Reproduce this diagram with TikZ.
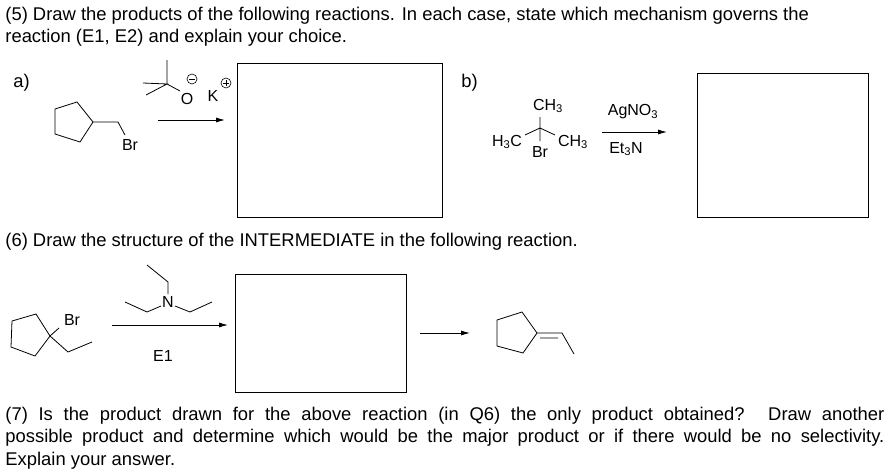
\documentclass[tikz,border=0pt]{standalone}
\usepackage{fontspec}
\usetikzlibrary{arrows.meta}
\setmainfont{Liberation Sans}
\begin{document}
\begin{tikzpicture}[x=1pt,y=-1pt,line width=0.8pt,
  txt/.style={inner sep=0pt,font=\fontsize{18.4}{22.8}\selectfont},
  lab/.style={inner sep=0pt,font=\fontsize{16}{18}\selectfont},
  ansbox/.style={draw,line width=1pt},
  rx/.style={-{Latex[length=9pt,width=5pt]},line width=0.8pt}]
\useasboundingbox (0,0) rectangle (888,474);
\node[txt,anchor=base west] (t1) at (5,20) {(5) Draw the products of the following reactions. In each case, state which mechanism governs the};
\node[txt,anchor=base west] (t2) at (5,42) {reaction (E1, E2) and explain your choice.};
\node[txt,anchor=base west] (la) at (13,87) {a)};
\node[txt,anchor=base west] (lb) at (461,87) {b)};
% a) substrate
\draw (77,102)--(93,122)--(80,142)--(55,134)--(55,109)--cycle;
\draw (93,122)--(118,122)--(125,135);
\node[lab] (bra) at (130,145) {Br};
% tBuO-
\draw (167,60)--(167,84) (143,83)--(167,84)--(146,95) (167,84)--(180,91);
\node[lab] (o) at (187,99) {O};
\draw[line width=0.6pt] (192,79) circle (5);
\draw[line width=0.6pt] (189,79)--(195,79);
\node[lab] (k) at (213,96) {K};
\draw[line width=0.6pt] (226,83) circle (5);
\draw[line width=0.6pt] (223,83)--(229,83) (226,80)--(226,86);
\coordinate (aa1) at (158,120); \coordinate (aa2) at (225,120);
\draw[rx] (aa1)--(aa2);
\node[ansbox,minimum width=205,minimum height=154,anchor=north west] (boxa) at (237,63) {};
% b)
\draw (540,117)--(540,128) (525,135)--(540,128)--(555,135) (540,128)--(540,141);
\node[lab] (ch3t) at (548,106) {CH\textsubscript{3}};
\node[lab] (h3c) at (507,142) {H\textsubscript{3}C};
\node[lab] (ch3r) at (573,142) {CH\textsubscript{3}};
\node[lab] (brb) at (540,152) {Br};
\coordinate (ab1) at (602,132); \coordinate (ab2) at (667,132);
\draw[rx] (ab1)--(ab2);
\node[lab] (ag) at (633,112) {AgNO\textsubscript{3}};
\node[lab] (et) at (626,149) {Et\textsubscript{3}N};
\node[ansbox,minimum width=171,minimum height=144,anchor=north west] (boxb) at (697,73) {};
% (6)
\node[txt,anchor=base west] (t6) at (5,246) {(6) Draw the structure of the INTERMEDIATE in the following reaction.};
\draw (50,336)--(36,314)--(12,321)--(11,347)--(35,356)--cycle;
\draw (50,336)--(59,328) (50,336)--(68,352)--(92,342);
\node[lab] (br6) at (72,320) {Br};
\node[lab] (n) at (168,302) {N};
\draw (168,294)--(168,282)--(147,265) (161,306)--(147,312)--(125,302) (175,306)--(190,312)--(212,302);
\coordinate (a61) at (112,325); \coordinate (a62) at (228,325);
\draw[rx] (a61)--(a62);
\node[lab] (e1) at (163,356) {E1};
\node[ansbox,minimum width=171,minimum height=118,anchor=north west] (box6) at (235,274) {};
\coordinate (a71) at (420,333); \coordinate (a72) at (470,333);
\draw[rx] (a71)--(a72);
\draw (537,333)--(522,312)--(497,320)--(497,346)--(523,353)--cycle;
\draw (537,333)--(562,333)--(574,354) (540,338)--(558,338);
% (7)
\node[txt,anchor=base west,text width=879,align=justify] (t7) at (5,420) {(7) Is the product drawn for the above reaction (in Q6) the only product obtained? Draw another\linebreak possible product and determine which would be the major product or if there would be no selectivity.\linebreak Explain your answer.};
\end{tikzpicture}
\end{document}
